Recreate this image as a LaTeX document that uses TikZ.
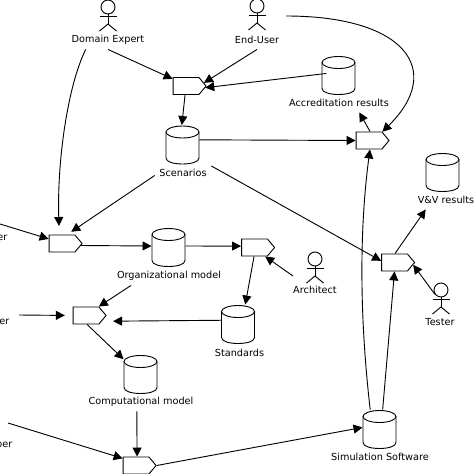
\documentclass[tikz,border=0pt]{standalone}
\usepackage{fontspec}
\setmainfont{DejaVu Sans}
\usetikzlibrary{arrows.meta,shapes.symbols}
\tikzset{
    lbl/.style={font=\fontsize{6.9}{8}\selectfont,inner xsep=3pt,inner ysep=0pt,minimum height=0.45cm,yshift=-0.7pt},
    activity/.style={draw,signal,signal to=east,signal pointer angle=100,minimum width=0.825cm,minimum height=0.425cm,inner sep=0pt,xshift=-0.0875cm},
    store/.pic={
        \node[minimum width=0.825cm,minimum height=0.975cm,inner sep=0pt] (-body) at (0,0) {};
        \draw (0,-13) ellipse [x radius=16.5,y radius=6];
        \draw (-16.5,-13) -- (-16.5,13) .. controls (-16.5,21) and (16.5,21) .. (16.5,13) -- (16.5,-13);
    },
    actor/.pic={
        \node[draw,circle,inner sep=0pt,minimum size=0.35cm] (-head) at (0,0) {};
        \draw (-head) -- (0,17);
        \draw (-8.5,9) -- (8.5,9);
        \draw (-8.5,24) -- (0,17) -- (8.5,24);
    }
}
\begin{document}
\begin{tikzpicture}[>={Triangle[length=6.4pt,width=6.4pt]},x=0.025cm,y=-0.025cm,line width=0.65pt]
    \useasboundingbox (0,0) rectangle (474,474);
    % actors
    \pic (expert) at (108,7) {actor};
    \pic (user) at (257,6) {actor};
    \pic (architect) at (315,259) {actor};
    \pic (tester) at (441,290) {actor};
    \node[lbl] (expertl) at (108,39) {Domain Expert};
    \node[lbl] (userl) at (257,39) {End-User};
    \node[lbl] (architectl) at (315,289) {Architect};
    \node[lbl] (testerl) at (440,321) {Tester};
    % data stores
    \pic (scen) at (182.5,145) {store};
    \pic (accr) at (338.5,75.5) {store};
    \pic (vv) at (442.5,172.5) {store};
    \pic (org) at (168.5,247.5) {store};
    \pic (stand) at (238,324.5) {store};
    \pic (comp) at (140.5,374.5) {store};
    \pic (sim) at (379.5,429.5) {store};
    \node[lbl] (scenl) at (183,172) {Scenarios};
    \node[lbl] (accrl) at (339,102) {Accreditation results};
    \node[lbl] (vvl) at (446,199) {V\&V results};
    \node[lbl] (orgl) at (169,275) {Organizational model};
    \node[lbl] (standl) at (239.5,352) {Standards};
    \node[lbl] (compl) at (141,401) {Computational model};
    \node[lbl] (siml) at (380,456) {Simulation Software};
    % activities
    \node[activity] (p1) at (189.5,86) {};
    \node[activity] (p2) at (372.5,140.5) {};
    \node[activity] (p3) at (65.5,243.5) {};
    \node[activity] (p4) at (258,247.5) {};
    \node[activity] (p5) at (398,262.5) {};
    \node[activity] (p6) at (89.5,315.5) {};
    \node[activity] (p7) at (139.5,465.5) {};
    % roles cut off at the left edge
    \node[lbl,anchor=east] (rolea) at (12,237) {er};
    \node[lbl,anchor=east] (roleb) at (14,321) {er};
    \node[lbl,anchor=east] (rolec) at (17,443) {ber};
    % free ends
    \coordinate (ina) at (0,224);
    \coordinate (inb) at (19,315);
    \coordinate (inc) at (8,423);
    \coordinate (usertop) at (286,16);
    \coordinate (archin) at (293,276);
    % connectors
    \draw[->] (expertl.south) -- (p1.152);
    \draw[->] (expertl.-157) .. controls (68,85) and (57,160) .. (59,226);
    \draw[->] (userl.south) -- (p1.10);
    \draw[->,shorten <=-3.5pt] (accr-body.175) -- (p1.-5);
    \draw[->] (p1.-96) -- (scen-body.92);
    \draw[->,shorten >=3.5pt] (scenl.185) -- (p3.60);
    \draw[->] (scen-body.17) -- (p2.west);
    \draw[->] (scenl.14) -- (p5.173);
    \draw[->] (p2.83) -- (accrl.-25);
    \draw[->] (usertop) .. controls (405,16) and (445,70) .. (p2.33);
    \draw[->] (sim-body.115) .. controls (361,330) and (358,240) .. (p2.-84);
    \draw[->] (sim-body.81) -- (p5.-90);
    \draw[->] (p5.87) -- (vvl.205);
    \draw[->] (tester-head.215) -- (p5.-7);
    \draw[->] (archin) -- (p4.-40);
    \draw[->] (p4.-93) -- (stand-body.70);
    \draw[->] (org-body.5) -- (p4.174);
    \draw[->] (p3.-6) -- (org-body.175);
    \draw[->] (ina) -- (p3.161);
    \draw[->] (orgl.194) -- (p6.35);
    \draw[->,shorten >=5.5pt] (inb) -- (p6.west);
    \draw[->,shorten >=8pt] (stand-body.166) -- (p6.-20);
    \draw[->] (p6.-83) -- (comp-body.138);
    \draw[->] (compl.-114) -- (p7.83);
    \draw[->] (inc) -- (p7.152);
    \draw[->] (p7.east) -- (sim-body.173);
\end{tikzpicture}
\end{document}
